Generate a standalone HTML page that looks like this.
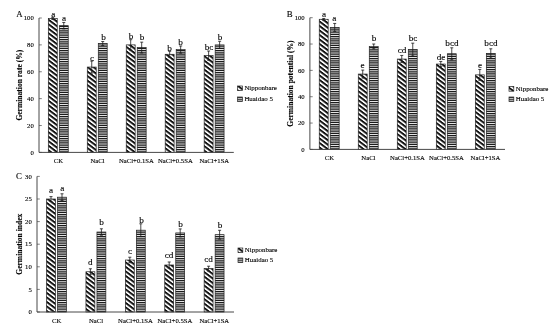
<!DOCTYPE html>
<html><head><meta charset="utf-8"><title>Germination</title>
<style>html,body{margin:0;padding:0;background:#fff}svg{display:block}text{font-family:"Liberation Serif","Times New Roman",serif;fill:#000;stroke:#000;stroke-width:0.12px}.t{font-size:6.7px}.l{font-size:9.2px}.y{font-size:7.55px;font-weight:bold}.c{font-size:8.8px}.g{font-size:6.9px}</style></head><body>
<svg width="550" height="330" viewBox="0 0 550 330">
<defs><pattern id="d" width="3.6" height="4.5" patternUnits="userSpaceOnUse" patternTransform="skewY(37)"><rect width="3.6" height="4.5" fill="#fff"/><rect width="3.6" height="2.35" fill="#111"/></pattern><pattern id="h" width="4" height="1.9" patternUnits="userSpaceOnUse"><rect width="4" height="1.9" fill="#e8e8e8"/><rect width="4" height="1.0" fill="#222"/></pattern></defs>
<rect width="550" height="330" fill="#fff"/>
<g>
<rect x="48.33" y="18.4" width="8.9" height="134" fill="url(#d)" stroke="#222" stroke-width="0.7"/>
<path d="M52.78 17.4V19.4M51.28 17.4h3M51.28 19.4h3" stroke="#1a1a1a" stroke-width="0.8" fill="none"/>
<rect x="59.33" y="25.66" width="8.9" height="126.74" fill="#e6e6e6"/>
<path d="M63.78 152.4V25.66" stroke="#1c1c1c" stroke-width="8.9" stroke-dasharray="1.25 0.95" fill="none"/>
<rect x="59.33" y="25.66" width="8.9" height="126.74" fill="none" stroke="#222" stroke-width="0.7"/>
<path d="M63.78 22.46V28.86M62.28 22.46h3M62.28 28.86h3" stroke="#1a1a1a" stroke-width="0.8" fill="none"/>
<text class="l" text-anchor="middle" x="53.4" y="16.6">a</text>
<text class="l" text-anchor="middle" x="64" y="20.8">a</text>
<text class="t" text-anchor="middle" x="58.48" y="162.7">CK</text>
<rect x="87.29" y="67.06" width="8.9" height="85.34" fill="url(#d)" stroke="#222" stroke-width="0.7"/>
<path d="M91.74 61.06V73.06M90.24 61.06h3M90.24 73.06h3" stroke="#1a1a1a" stroke-width="0.8" fill="none"/>
<rect x="98.29" y="43.54" width="8.9" height="108.86" fill="#e6e6e6"/>
<path d="M102.74 152.4V43.54" stroke="#1c1c1c" stroke-width="8.9" stroke-dasharray="1.25 0.95" fill="none"/>
<rect x="98.29" y="43.54" width="8.9" height="108.86" fill="none" stroke="#222" stroke-width="0.7"/>
<path d="M102.74 41.54V45.54M101.24 41.54h3M101.24 45.54h3" stroke="#1a1a1a" stroke-width="0.8" fill="none"/>
<text class="l" text-anchor="middle" x="92" y="60.6">c</text>
<text class="l" text-anchor="middle" x="103.6" y="39.8">b</text>
<text class="t" text-anchor="middle" x="97.44" y="162.7">NaCl</text>
<rect x="126.25" y="44.88" width="8.9" height="107.52" fill="url(#d)" stroke="#222" stroke-width="0.7"/>
<path d="M130.7 39.68V50.08M129.2 39.68h3M129.2 50.08h3" stroke="#1a1a1a" stroke-width="0.8" fill="none"/>
<rect x="137.25" y="47.57" width="8.9" height="104.83" fill="#e6e6e6"/>
<path d="M141.7 152.4V47.57" stroke="#1c1c1c" stroke-width="8.9" stroke-dasharray="1.25 0.95" fill="none"/>
<rect x="137.25" y="47.57" width="8.9" height="104.83" fill="none" stroke="#222" stroke-width="0.7"/>
<path d="M141.7 42.17V52.97M140.2 42.17h3M140.2 52.97h3" stroke="#1a1a1a" stroke-width="0.8" fill="none"/>
<text class="l" text-anchor="middle" x="131" y="38.8">b</text>
<text class="l" text-anchor="middle" x="142" y="40">b</text>
<text class="t" text-anchor="middle" x="136.4" y="162.7">NaCl+0.1SA</text>
<rect x="165.21" y="54.29" width="8.9" height="98.11" fill="url(#d)" stroke="#222" stroke-width="0.7"/>
<path d="M169.66 51.29V57.29M168.16 51.29h3M168.16 57.29h3" stroke="#1a1a1a" stroke-width="0.8" fill="none"/>
<rect x="176.21" y="49.58" width="8.9" height="102.82" fill="#e6e6e6"/>
<path d="M180.66 152.4V49.58" stroke="#1c1c1c" stroke-width="8.9" stroke-dasharray="1.25 0.95" fill="none"/>
<rect x="176.21" y="49.58" width="8.9" height="102.82" fill="none" stroke="#222" stroke-width="0.7"/>
<path d="M180.66 45.98V53.18M179.16 45.98h3M179.16 53.18h3" stroke="#1a1a1a" stroke-width="0.8" fill="none"/>
<text class="l" text-anchor="middle" x="169.6" y="50.8">b</text>
<text class="l" text-anchor="middle" x="180.6" y="45.2">b</text>
<text class="t" text-anchor="middle" x="175.36" y="162.7">NaCl+0.5SA</text>
<rect x="204.17" y="55.63" width="8.9" height="96.77" fill="url(#d)" stroke="#222" stroke-width="0.7"/>
<path d="M208.62 51.03V60.23M207.12 51.03h3M207.12 60.23h3" stroke="#1a1a1a" stroke-width="0.8" fill="none"/>
<rect x="215.17" y="44.88" width="8.9" height="107.52" fill="#e6e6e6"/>
<path d="M219.62 152.4V44.88" stroke="#1c1c1c" stroke-width="8.9" stroke-dasharray="1.25 0.95" fill="none"/>
<rect x="215.17" y="44.88" width="8.9" height="107.52" fill="none" stroke="#222" stroke-width="0.7"/>
<path d="M219.62 41.28V48.48M218.12 41.28h3M218.12 48.48h3" stroke="#1a1a1a" stroke-width="0.8" fill="none"/>
<text class="l" text-anchor="middle" x="209" y="49.8">bc</text>
<text class="l" text-anchor="middle" x="220" y="40.2">b</text>
<text class="t" text-anchor="middle" x="214.32" y="162.7">NaCl+1SA</text>
<path d="M39 18V152.4H233.8" stroke="#484848" stroke-width="1" fill="none"/>
<path d="M39 152.4h2.8" stroke="#484848" stroke-width="0.7"/>
<text class="t" text-anchor="end" x="33.8" y="154.6">0</text>
<path d="M39 125.52h2.8" stroke="#484848" stroke-width="0.7"/>
<text class="t" text-anchor="end" x="33.8" y="127.72">20</text>
<path d="M39 98.64h2.8" stroke="#484848" stroke-width="0.7"/>
<text class="t" text-anchor="end" x="33.8" y="100.84">40</text>
<path d="M39 71.76h2.8" stroke="#484848" stroke-width="0.7"/>
<text class="t" text-anchor="end" x="33.8" y="73.96">60</text>
<path d="M39 44.88h2.8" stroke="#484848" stroke-width="0.7"/>
<text class="t" text-anchor="end" x="33.8" y="47.08">80</text>
<path d="M39 18h2.8" stroke="#484848" stroke-width="0.7"/>
<text class="t" text-anchor="end" x="33.8" y="20.2">100</text>
<text class="y" text-anchor="middle" transform="translate(21.5 85.2) rotate(-90)">Germination rate (%)</text>
<text class="c" x="16.2" y="17.2">A</text>
<rect x="237.6" y="86" width="4.8" height="4.6" fill="url(#d)" stroke="#222" stroke-width="0.7"/>
<text class="g" x="244.4" y="90.4">Nipponbare</text>
<rect x="237.6" y="97" width="4.8" height="4.6" fill="url(#h)" stroke="#222" stroke-width="0.7"/>
<text class="g" x="244.4" y="101.4">Huaidao 5</text>
</g>
<g>
<rect x="319.26" y="19.28" width="8.9" height="130.12" fill="url(#d)" stroke="#222" stroke-width="0.7"/>
<path d="M323.71 18.48V20.08M322.21 18.48h3M322.21 20.08h3" stroke="#1a1a1a" stroke-width="0.8" fill="none"/>
<rect x="330.26" y="27.45" width="8.9" height="121.95" fill="#e6e6e6"/>
<path d="M334.71 149.4V27.45" stroke="#1c1c1c" stroke-width="8.9" stroke-dasharray="1.25 0.95" fill="none"/>
<rect x="330.26" y="27.45" width="8.9" height="121.95" fill="none" stroke="#222" stroke-width="0.7"/>
<path d="M334.71 23.45V31.45M333.21 23.45h3M333.21 31.45h3" stroke="#1a1a1a" stroke-width="0.8" fill="none"/>
<text class="l" text-anchor="middle" x="324" y="16.6">a</text>
<text class="l" text-anchor="middle" x="334.4" y="20.8">a</text>
<text class="t" text-anchor="middle" x="329.41" y="160">CK</text>
<rect x="358.28" y="74.07" width="8.9" height="75.33" fill="url(#d)" stroke="#222" stroke-width="0.7"/>
<path d="M362.73 70.07V78.07M361.23 70.07h3M361.23 78.07h3" stroke="#1a1a1a" stroke-width="0.8" fill="none"/>
<rect x="369.28" y="46.41" width="8.9" height="102.99" fill="#e6e6e6"/>
<path d="M373.73 149.4V46.41" stroke="#1c1c1c" stroke-width="8.9" stroke-dasharray="1.25 0.95" fill="none"/>
<rect x="369.28" y="46.41" width="8.9" height="102.99" fill="none" stroke="#222" stroke-width="0.7"/>
<path d="M373.73 44.01V48.81M372.23 44.01h3M372.23 48.81h3" stroke="#1a1a1a" stroke-width="0.8" fill="none"/>
<text class="l" text-anchor="middle" x="362.6" y="67.8">e</text>
<text class="l" text-anchor="middle" x="374" y="41.2">b</text>
<text class="t" text-anchor="middle" x="368.43" y="160">NaCl</text>
<rect x="397.3" y="59.05" width="8.9" height="90.35" fill="url(#d)" stroke="#222" stroke-width="0.7"/>
<path d="M401.75 55.45V62.65M400.25 55.45h3M400.25 62.65h3" stroke="#1a1a1a" stroke-width="0.8" fill="none"/>
<rect x="408.3" y="49.57" width="8.9" height="99.83" fill="#e6e6e6"/>
<path d="M412.75 149.4V49.57" stroke="#1c1c1c" stroke-width="8.9" stroke-dasharray="1.25 0.95" fill="none"/>
<rect x="408.3" y="49.57" width="8.9" height="99.83" fill="none" stroke="#222" stroke-width="0.7"/>
<path d="M412.75 43.17V55.97M411.25 43.17h3M411.25 55.97h3" stroke="#1a1a1a" stroke-width="0.8" fill="none"/>
<text class="l" text-anchor="middle" x="402" y="52.8">cd</text>
<text class="l" text-anchor="middle" x="413" y="40.8">bc</text>
<text class="t" text-anchor="middle" x="407.45" y="160">NaCl+0.1SA</text>
<rect x="436.32" y="64.06" width="8.9" height="85.34" fill="url(#d)" stroke="#222" stroke-width="0.7"/>
<path d="M440.77 61.46V66.66M439.27 61.46h3M439.27 66.66h3" stroke="#1a1a1a" stroke-width="0.8" fill="none"/>
<rect x="447.32" y="53.79" width="8.9" height="95.61" fill="#e6e6e6"/>
<path d="M451.77 149.4V53.79" stroke="#1c1c1c" stroke-width="8.9" stroke-dasharray="1.25 0.95" fill="none"/>
<rect x="447.32" y="53.79" width="8.9" height="95.61" fill="none" stroke="#222" stroke-width="0.7"/>
<path d="M451.77 47.79V59.79M450.27 47.79h3M450.27 59.79h3" stroke="#1a1a1a" stroke-width="0.8" fill="none"/>
<text class="l" text-anchor="middle" x="441" y="60.4">de</text>
<text class="l" text-anchor="middle" x="452" y="45.8">bcd</text>
<text class="t" text-anchor="middle" x="446.47" y="160">NaCl+0.5SA</text>
<rect x="475.34" y="74.86" width="8.9" height="74.54" fill="url(#d)" stroke="#222" stroke-width="0.7"/>
<path d="M479.79 69.46V80.26M478.29 69.46h3M478.29 80.26h3" stroke="#1a1a1a" stroke-width="0.8" fill="none"/>
<rect x="486.34" y="53.39" width="8.9" height="96.01" fill="#e6e6e6"/>
<path d="M490.79 149.4V53.39" stroke="#1c1c1c" stroke-width="8.9" stroke-dasharray="1.25 0.95" fill="none"/>
<rect x="486.34" y="53.39" width="8.9" height="96.01" fill="none" stroke="#222" stroke-width="0.7"/>
<path d="M490.79 48.79V57.99M489.29 48.79h3M489.29 57.99h3" stroke="#1a1a1a" stroke-width="0.8" fill="none"/>
<text class="l" text-anchor="middle" x="480" y="68.2">e</text>
<text class="l" text-anchor="middle" x="491" y="46.4">bcd</text>
<text class="t" text-anchor="middle" x="485.49" y="160">NaCl+1SA</text>
<path d="M309.9 17.7V149.4H505" stroke="#484848" stroke-width="1" fill="none"/>
<path d="M309.9 149.4h2.8" stroke="#484848" stroke-width="0.7"/>
<text class="t" text-anchor="end" x="304.7" y="151.6">0</text>
<path d="M309.9 123.06h2.8" stroke="#484848" stroke-width="0.7"/>
<text class="t" text-anchor="end" x="304.7" y="125.26">20</text>
<path d="M309.9 96.72h2.8" stroke="#484848" stroke-width="0.7"/>
<text class="t" text-anchor="end" x="304.7" y="98.92">40</text>
<path d="M309.9 70.38h2.8" stroke="#484848" stroke-width="0.7"/>
<text class="t" text-anchor="end" x="304.7" y="72.58">60</text>
<path d="M309.9 44.04h2.8" stroke="#484848" stroke-width="0.7"/>
<text class="t" text-anchor="end" x="304.7" y="46.24">80</text>
<path d="M309.9 17.7h2.8" stroke="#484848" stroke-width="0.7"/>
<text class="t" text-anchor="end" x="304.7" y="19.9">100</text>
<text class="y" text-anchor="middle" transform="translate(293.2 83.55) rotate(-90)">Germination potential (%)</text>
<text class="c" x="286.8" y="16.8">B</text>
<rect x="509" y="86.6" width="4.8" height="4.6" fill="url(#d)" stroke="#222" stroke-width="0.7"/>
<text class="g" x="515.8" y="91">Nipponbare</text>
<rect x="509" y="97" width="4.8" height="4.6" fill="url(#h)" stroke="#222" stroke-width="0.7"/>
<text class="g" x="515.8" y="101.4">Huaidao 5</text>
</g>
<g>
<rect x="46.55" y="199" width="8.9" height="113" fill="url(#d)" stroke="#222" stroke-width="0.7"/>
<path d="M51 196.6V201.4M49.5 196.6h3M49.5 201.4h3" stroke="#1a1a1a" stroke-width="0.8" fill="none"/>
<rect x="57.55" y="197.19" width="8.9" height="114.81" fill="#e6e6e6"/>
<path d="M62 312V197.19" stroke="#1c1c1c" stroke-width="8.9" stroke-dasharray="1.25 0.95" fill="none"/>
<rect x="57.55" y="197.19" width="8.9" height="114.81" fill="none" stroke="#222" stroke-width="0.7"/>
<path d="M62 193.79V200.59M60.5 193.79h3M60.5 200.59h3" stroke="#1a1a1a" stroke-width="0.8" fill="none"/>
<text class="l" text-anchor="middle" x="51" y="192.8">a</text>
<text class="l" text-anchor="middle" x="62.4" y="191.2">a</text>
<text class="t" text-anchor="middle" x="56.7" y="322.5">CK</text>
<rect x="85.95" y="271.77" width="8.9" height="40.23" fill="url(#d)" stroke="#222" stroke-width="0.7"/>
<path d="M90.4 268.77V274.77M88.9 268.77h3M88.9 274.77h3" stroke="#1a1a1a" stroke-width="0.8" fill="none"/>
<rect x="96.95" y="232" width="8.9" height="80" fill="#e6e6e6"/>
<path d="M101.4 312V232" stroke="#1c1c1c" stroke-width="8.9" stroke-dasharray="1.25 0.95" fill="none"/>
<rect x="96.95" y="232" width="8.9" height="80" fill="none" stroke="#222" stroke-width="0.7"/>
<path d="M101.4 228.8V235.2M99.9 228.8h3M99.9 235.2h3" stroke="#1a1a1a" stroke-width="0.8" fill="none"/>
<text class="l" text-anchor="middle" x="90.4" y="264.8">d</text>
<text class="l" text-anchor="middle" x="101.6" y="225.2">b</text>
<text class="t" text-anchor="middle" x="96.1" y="322.5">NaCl</text>
<rect x="125.35" y="260.02" width="8.9" height="51.98" fill="url(#d)" stroke="#222" stroke-width="0.7"/>
<path d="M129.8 257.22V262.82M128.3 257.22h3M128.3 262.82h3" stroke="#1a1a1a" stroke-width="0.8" fill="none"/>
<rect x="136.35" y="230.19" width="8.9" height="81.81" fill="#e6e6e6"/>
<path d="M140.8 312V230.19" stroke="#1c1c1c" stroke-width="8.9" stroke-dasharray="1.25 0.95" fill="none"/>
<rect x="136.35" y="230.19" width="8.9" height="81.81" fill="none" stroke="#222" stroke-width="0.7"/>
<path d="M140.8 223.79V236.59M139.3 223.79h3M139.3 236.59h3" stroke="#1a1a1a" stroke-width="0.8" fill="none"/>
<text class="l" text-anchor="middle" x="130" y="253.8">c</text>
<text class="l" text-anchor="middle" x="141.6" y="223.4">b</text>
<text class="t" text-anchor="middle" x="135.5" y="322.5">NaCl+0.1SA</text>
<rect x="164.75" y="264.99" width="8.9" height="47.01" fill="url(#d)" stroke="#222" stroke-width="0.7"/>
<path d="M169.2 261.99V267.99M167.7 261.99h3M167.7 267.99h3" stroke="#1a1a1a" stroke-width="0.8" fill="none"/>
<rect x="175.75" y="232.9" width="8.9" height="79.1" fill="#e6e6e6"/>
<path d="M180.2 312V232.9" stroke="#1c1c1c" stroke-width="8.9" stroke-dasharray="1.25 0.95" fill="none"/>
<rect x="175.75" y="232.9" width="8.9" height="79.1" fill="none" stroke="#222" stroke-width="0.7"/>
<path d="M180.2 228.9V236.9M178.7 228.9h3M178.7 236.9h3" stroke="#1a1a1a" stroke-width="0.8" fill="none"/>
<text class="l" text-anchor="middle" x="169" y="258.4">cd</text>
<text class="l" text-anchor="middle" x="180.6" y="226.8">b</text>
<text class="t" text-anchor="middle" x="174.9" y="322.5">NaCl+0.5SA</text>
<rect x="204.15" y="268.61" width="8.9" height="43.39" fill="url(#d)" stroke="#222" stroke-width="0.7"/>
<path d="M208.6 266.21V271.01M207.1 266.21h3M207.1 271.01h3" stroke="#1a1a1a" stroke-width="0.8" fill="none"/>
<rect x="215.15" y="234.71" width="8.9" height="77.29" fill="#e6e6e6"/>
<path d="M219.6 312V234.71" stroke="#1c1c1c" stroke-width="8.9" stroke-dasharray="1.25 0.95" fill="none"/>
<rect x="215.15" y="234.71" width="8.9" height="77.29" fill="none" stroke="#222" stroke-width="0.7"/>
<path d="M219.6 230.31V239.11M218.1 230.31h3M218.1 239.11h3" stroke="#1a1a1a" stroke-width="0.8" fill="none"/>
<text class="l" text-anchor="middle" x="208.6" y="262.2">cd</text>
<text class="l" text-anchor="middle" x="220" y="228.4">b</text>
<text class="t" text-anchor="middle" x="214.3" y="322.5">NaCl+1SA</text>
<path d="M37 176.4V312H234" stroke="#484848" stroke-width="1" fill="none"/>
<path d="M37 312h2.8" stroke="#484848" stroke-width="0.7"/>
<text class="t" text-anchor="end" x="31.8" y="314.2">0</text>
<path d="M37 289.4h2.8" stroke="#484848" stroke-width="0.7"/>
<text class="t" text-anchor="end" x="31.8" y="291.6">5</text>
<path d="M37 266.8h2.8" stroke="#484848" stroke-width="0.7"/>
<text class="t" text-anchor="end" x="31.8" y="269">10</text>
<path d="M37 244.2h2.8" stroke="#484848" stroke-width="0.7"/>
<text class="t" text-anchor="end" x="31.8" y="246.4">15</text>
<path d="M37 221.6h2.8" stroke="#484848" stroke-width="0.7"/>
<text class="t" text-anchor="end" x="31.8" y="223.8">20</text>
<path d="M37 199h2.8" stroke="#484848" stroke-width="0.7"/>
<text class="t" text-anchor="end" x="31.8" y="201.2">25</text>
<path d="M37 176.4h2.8" stroke="#484848" stroke-width="0.7"/>
<text class="t" text-anchor="end" x="31.8" y="178.6">30</text>
<text class="y" text-anchor="middle" transform="translate(21.5 244.2) rotate(-90)">Germination index</text>
<text class="c" x="15.9" y="178.8">C</text>
<rect x="238" y="248" width="4.8" height="4.6" fill="url(#d)" stroke="#222" stroke-width="0.7"/>
<text class="g" x="244.8" y="252.4">Nipponbare</text>
<rect x="238" y="258" width="4.8" height="4.6" fill="url(#h)" stroke="#222" stroke-width="0.7"/>
<text class="g" x="244.8" y="262.4">Huaidao 5</text>
</g>
</svg></body></html>
